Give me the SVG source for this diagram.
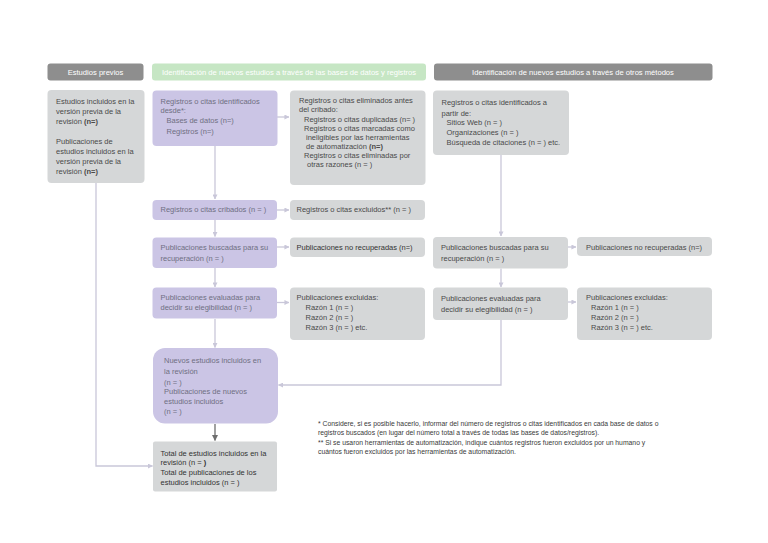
<svg xmlns="http://www.w3.org/2000/svg" width="768" height="543" viewBox="0 0 768 543">
<defs>
<marker id="ah" viewBox="0 0 6 6" refX="5.5" refY="3" markerWidth="5" markerHeight="5" orient="auto" markerUnits="userSpaceOnUse">
<path d="M0,0 L6,3 L0,6 z" fill="#c9c7d9"/>
</marker>
<marker id="ahd" viewBox="0 0 6 6" refX="5.5" refY="3" markerWidth="6" markerHeight="6" orient="auto" markerUnits="userSpaceOnUse">
<path d="M0,0 L6,3 L0,6 z" fill="#6e6e6e"/>
</marker>
</defs>
<style>
text{font-family:"Liberation Sans",Arial,sans-serif;font-size:7.5px;}
.hd{fill:#ffffff;text-anchor:middle;font-size:7.6px;}
.hg{fill:#8e8e8e;}
.hgr{fill:#c6e6c4;}
.pb{fill:#cbc5e5;}
.gb{fill:#d5d7d8;}
.pt{fill:#6f6f82;}
.gt{fill:#4a4a4a;}
.dt{fill:#333333;}
.fn{font-size:6.8px;fill:#3a3a3a;}
.cn{stroke:#c9c7d9;stroke-width:1.3;fill:none;}
</style>
<rect width="768" height="543" fill="#ffffff"/>

<g id="headers">
<rect class="hg" x="47.5" y="63.5" width="96" height="17" rx="3"/>
<text class="hd" x="95.5" y="74.8">Estudios previos</text>
<rect class="hgr" x="152" y="63.5" width="274" height="17" rx="3"/>
<text class="hd" x="289" y="74.8">Identificación de nuevos estudios a través de las bases de datos y registros</text>
<rect class="hg" x="434" y="63.5" width="278.5" height="17" rx="3"/>
<text class="hd" x="573" y="74.8">Identificación de nuevos estudios a través de otros métodos</text>
</g>

<g id="connectors">
<path class="cn" d="M215,146 V199" marker-end="url(#ah)"/>
<path class="cn" d="M277,117 H289" marker-end="url(#ah)"/>
<path class="cn" d="M277,210 H289" marker-end="url(#ah)"/>
<path class="cn" d="M215,220 V236.5" marker-end="url(#ah)"/>
<path class="cn" d="M277,247 H289" marker-end="url(#ah)"/>
<path class="cn" d="M215,268 V287" marker-end="url(#ah)"/>
<path class="cn" d="M277,302.5 H289" marker-end="url(#ah)"/>
<path class="cn" d="M215,319 V347.5" marker-end="url(#ah)"/>
<path d="M215,424 V440.5" stroke="#6e6e6e" stroke-width="1.3" fill="none" marker-end="url(#ahd)"/>
<path class="cn" d="M96,183 V466 H152.5" marker-end="url(#ah)"/>
<path class="cn" d="M501,155 V236" marker-end="url(#ah)"/>
<path class="cn" d="M568,247 H576" marker-end="url(#ah)"/>
<path class="cn" d="M501,268.5 V287" marker-end="url(#ah)"/>
<path class="cn" d="M568,302 H576" marker-end="url(#ah)"/>
<path class="cn" d="M501,320 V385 H278.5" marker-end="url(#ah)"/>
</g>

<g id="previos">
<rect class="gb" x="47.5" y="90" width="97" height="93" rx="4"/>
<text class="gt" x="56" y="103.5">Estudios incluidos en la</text>
<text class="gt" x="56" y="113.5">versión previa de la</text>
<text class="gt" x="56" y="123.5">revisión <tspan font-weight="bold">(n=)</tspan></text>
<text class="gt" x="56" y="143.5">Publicaciones de</text>
<text class="gt" x="56" y="153.5">estudios incluidos en la</text>
<text class="gt" x="56" y="163.5">versión previa de la</text>
<text class="gt" x="56" y="173.5">revisión <tspan font-weight="bold">(n=)</tspan></text>
</g>

<g id="identificados">
<rect class="pb" x="152.5" y="90.5" width="125" height="55.5" rx="4"/>
<text class="pt" x="160.5" y="103.5">Registros o citas identificados</text>
<text class="pt" x="160.5" y="113">desde*:</text>
<text class="pt" x="166.5" y="123">Bases de datos (n=)</text>
<text class="pt" x="166.5" y="133.5">Registros (n=)</text>
</g>

<g id="eliminados">
<rect class="gb" x="290" y="90.5" width="135.5" height="94.5" rx="4"/>
<text class="gt" x="299" y="103.3">Registros o citas eliminados antes</text>
<text class="gt" x="299" y="112.4">del cribado:</text>
<text class="gt" x="304" y="121.5">Registros o citas duplicadas (n= )</text>
<text class="gt" x="304" y="130.6">Registros o citas marcadas como</text>
<text class="gt" x="306" y="139.7">ineligibles por las herramientas</text>
<text class="gt" x="306" y="148.8">de automatización <tspan font-weight="bold">(n=)</tspan></text>
<text class="gt" x="304" y="157.9">Registros o citas eliminadas por</text>
<text class="gt" x="307" y="167">otras razones (n = )</text>
</g>

<g id="otros-identificados">
<rect class="gb" x="433" y="90.5" width="136" height="64.5" rx="4"/>
<text class="gt" x="441.5" y="105">Registros o citas identificados a</text>
<text class="gt" x="441.5" y="115.5">partir de:</text>
<text class="gt" x="446.5" y="125">Sitios Web (n = )</text>
<text class="gt" x="446.5" y="135">Organizaciones (n = )</text>
<text class="gt" x="446.5" y="145">Búsqueda de citaciones (n = ) etc.</text>
</g>

<g id="cribados">
<rect class="pb" x="152.5" y="200" width="124.5" height="20" rx="4"/>
<text class="pt" x="160.5" y="212.2">Registros o citas cribados (n = )</text>
</g>

<g id="excluidos">
<rect class="gb" x="290" y="200" width="135" height="20" rx="4"/>
<text class="gt" x="296.5" y="212.2">Registros o citas excluidos** (n = )</text>
</g>

<g id="buscadas">
<rect class="pb" x="152.5" y="237.5" width="124.5" height="30.5" rx="4"/>
<text class="pt" x="160.5" y="249.5">Publicaciones buscadas para su</text>
<text class="pt" x="160.5" y="260.5">recuperación (n = )</text>
</g>

<g id="no-recuperadas">
<rect class="gb" x="290" y="237.5" width="135" height="19.5" rx="4"/>
<text class="dt" x="296.5" y="249.5">Publicaciones no recuperadas (n=)</text>
</g>

<g id="evaluadas">
<rect class="pb" x="152.5" y="287.5" width="124.5" height="31" rx="4"/>
<text class="pt" x="160.5" y="299.5">Publicaciones evaluadas para</text>
<text class="pt" x="160.5" y="310">decidir su elegibilidad (n = )</text>
</g>

<g id="excluidas">
<rect class="gb" x="290" y="287.5" width="135" height="52.5" rx="4"/>
<text class="gt" x="296.5" y="299.5">Publicaciones excluidas:</text>
<text class="gt" x="305.5" y="310">Razón 1 (n = )</text>
<text class="gt" x="305.5" y="319.5">Razón 2 (n = )</text>
<text class="gt" x="305.5" y="329.5">Razón 3 (n = ) etc.</text>
</g>

<g id="otros-buscadas">
<rect class="gb" x="433" y="237" width="135" height="31.5" rx="4"/>
<text class="gt" x="441" y="250">Publicaciones buscadas para su</text>
<text class="gt" x="441" y="261">recuperación (n = )</text>
</g>

<g id="otros-no-recuperadas">
<rect class="gb" x="577" y="237" width="135" height="19" rx="4"/>
<text class="gt" x="586" y="249.5">Publicaciones no recuperadas (n=)</text>
</g>

<g id="otros-evaluadas">
<rect class="gb" x="433" y="287.5" width="135" height="32.5" rx="4"/>
<text class="gt" x="441" y="301">Publicaciones evaluadas para</text>
<text class="gt" x="441" y="312">decidir su elegibilidad (n = )</text>
</g>

<g id="otros-excluidas">
<rect class="gb" x="577" y="287.5" width="135" height="52.5" rx="4"/>
<text class="gt" x="586" y="299.5">Publicaciones excluidas:</text>
<text class="gt" x="591" y="310">Razón 1 (n = )</text>
<text class="gt" x="591" y="320">Razón 2 (n = )</text>
<text class="gt" x="591" y="330">Razón 3 (n = ) etc.</text>
</g>

<g id="nuevos">
<rect class="pb" x="153" y="348" width="125" height="75.5" rx="12"/>
<text class="pt" x="164" y="363.3">Nuevos estudios incluidos en</text>
<text class="pt" x="164" y="374">la revisión</text>
<text class="pt" x="164" y="384.5">(n = )</text>
<text class="pt" x="164" y="394.3">Publicaciones de nuevos</text>
<text class="pt" x="164" y="404.3">estudios incluidos</text>
<text class="pt" x="164" y="414.3">(n = )</text>
</g>

<g id="total">
<rect class="gb" x="153" y="441.5" width="124" height="50" rx="2"/>
<text class="dt" x="160.5" y="455.8">Total de estudios incluidos en la</text>
<text class="dt" x="160.5" y="465.3">revisión (n = <tspan font-weight="bold">)</tspan></text>
<text class="dt" x="160.5" y="475.3">Total de publicaciones de los</text>
<text class="dt" x="160.5" y="485.3">estudios incluidos (n = )</text>
</g>

<g id="footnotes">
<text class="fn" x="318" y="426.2">* Considere, si es posible hacerlo, informar del número de registros o citas identificados en cada base de datos o</text>
<text class="fn" x="318" y="435.4">registros buscados (en lugar del número total a través de todas las bases de datos/registros).</text>
<text class="fn" x="318" y="444.5">** Si se usaron herramientas de automatización, indique cuántos registros fueron excluidos por un humano y</text>
<text class="fn" x="318" y="453.8">cuántos fueron excluidos por las herramientas de automatización.</text>
</g>
</svg>
